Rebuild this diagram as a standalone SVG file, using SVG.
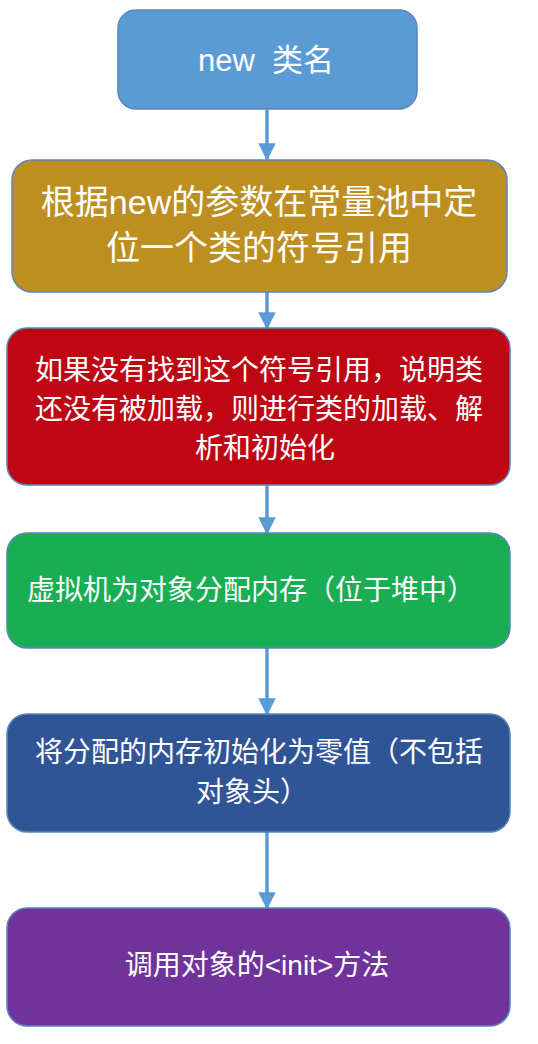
<svg xmlns="http://www.w3.org/2000/svg" width="538" height="1044" viewBox="0 0 538 1044">
<defs>
<style>
.box{stroke:#5a86b8;stroke-width:1.5}
.t{fill:#ffffff;font-family:"Liberation Sans","Noto Sans CJK SC",sans-serif;text-anchor:middle;dominant-baseline:central}
.c{stroke:#5b9bd5;stroke-width:3.5;fill:none;marker-end:url(#ah)}
</style>
<marker id="ah" viewBox="0 0 10 10" refX="9" refY="5" markerWidth="5" markerHeight="5.2" markerUnits="strokeWidth" orient="auto">
<path d="M0,0 L10,5 L0,10 Z" fill="#5b9bd5"/>
</marker>
</defs>
<rect width="538" height="1044" fill="#ffffff"/>
<g id="connectors">
<line class="c" x1="267" y1="110" x2="267" y2="159"/>
<line class="c" x1="267" y1="292" x2="267" y2="328"/>
<line class="c" x1="267" y1="485" x2="267" y2="533"/>
<line class="c" x1="267" y1="648" x2="267" y2="714"/>
<line class="c" x1="267" y1="832" x2="267" y2="908"/>
</g>
<g id="n1">
<rect class="box" x="118" y="10" width="299" height="99" rx="18" fill="#5b9bd5"/>
<text class="t" x="266" y="60" font-size="31" xml:space="preserve">new  类名</text>
</g>
<g id="n2">
<rect class="box" x="12" y="160" width="495" height="132" rx="20" fill="#bd8f21"/>
<text class="t" x="259" y="202" font-size="34">根据new的参数在常量池中定</text>
<text class="t" x="259" y="248" font-size="34">位一个类的符号引用</text>
</g>
<g id="n3">
<rect class="box" x="7" y="328" width="503" height="157" rx="20" fill="#bf0613"/>
<text class="t" x="259" y="370" font-size="28">如果没有找到这个符号引用，说明类</text>
<text class="t" x="259" y="409" font-size="28">还没有被加载，则进行类的加载、解</text>
<text class="t" x="265" y="448" font-size="28">析和初始化</text>
</g>
<g id="n4">
<rect class="box" x="7" y="533" width="503" height="115" rx="20" fill="#1aae54"/>
<text class="t" x="251" y="590" font-size="28">虚拟机为对象分配内存（位于堆中）</text>
</g>
<g id="n5">
<rect class="box" x="7" y="714" width="503" height="118" rx="20" fill="#2f5596"/>
<text class="t" x="259" y="752" font-size="28">将分配的内存初始化为零值（不包括</text>
<text class="t" x="252" y="792" font-size="28">对象头）</text>
</g>
<g id="n6">
<rect class="box" x="7" y="908" width="503" height="118" rx="20" fill="#70339c"/>
<text class="t" x="257" y="965" font-size="28">调用对象的&lt;init&gt;方法</text>
</g>
</svg>
